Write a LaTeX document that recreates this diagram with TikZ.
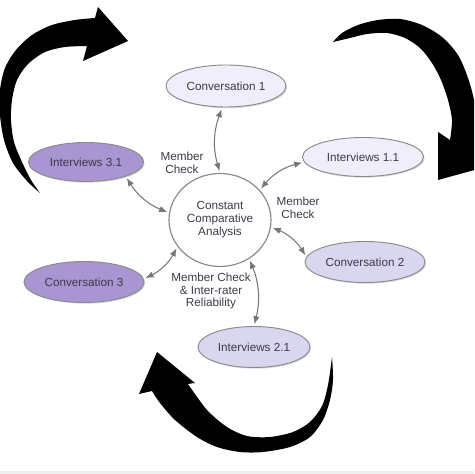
\documentclass[tikz,border=0pt]{standalone}
\usepackage{fontspec}
\setmainfont{Liberation Sans}
\usetikzlibrary{shapes.geometric,arrows.meta,shadows}
\definecolor{lightlav}{HTML}{F1EEFB}
\definecolor{midlav}{HTML}{D9D6F0}
\definecolor{darklav}{HTML}{A995D2}
\definecolor{rimgray}{HTML}{8A8A8A}
\definecolor{linkgray}{HTML}{777777}
\definecolor{txtgray}{HTML}{3B3A48}
\definecolor{stripgray}{HTML}{EEEEEE}

\begin{document}
\begin{tikzpicture}[x=0.03cm,y=0.03cm,
  phase/.style={ellipse,draw=rimgray,line width=0.8pt,inner sep=0pt,text=txtgray,minimum width=3.6cm,minimum height=1.23cm,drop shadow={shadow xshift=1pt,shadow yshift=-1pt,opacity=0.3}},
  hub/.style={ellipse,draw=rimgray,line width=1pt,fill=white,inner sep=0pt,text=txtgray,align=center,font=\fontsize{10}{11}\selectfont,minimum width=3.06cm,minimum height=2.79cm},
  note/.style={align=center,text=txtgray,font=\fontsize{10}{11}\selectfont},
  link/.style={<->,>={Latex[length=7pt,width=5.5pt]},draw=linkgray,line width=0.9pt,shorten <=1.5pt,shorten >=1.5pt,bend right=18}]

\useasboundingbox (0,0) rectangle (474,474);
\clip (0,0) rectangle (474,474);
\fill[stripgray] (0,0) rectangle (474,3);

% cycle arrows, drawn in image coordinates
\begin{scope}[shift={(0,474)},yscale=-1]
\fill[black] plot[smooth] coordinates {(40,193) (27,181) (13,163) (4,140) (0,115) (0,90) (5,68) (16,50) (32,35) (52,25) (75,20) (95,18)}
  -- (98,7) -- (128,41) -- (83,61)
  -- plot[smooth] coordinates {(87,46) (65,47) (45,52) (28,64) (17,80) (12,100) (11,120) (14,142) (22,162) (31,180) (40,193)} -- cycle;
\fill[black] plot[smooth] coordinates {(333,42) (342,33) (358,25) (378,20) (400,19) (422,25) (442,37) (458,55) (468,78) (474,100) (477,125) (478,158)}
  -- (489,166) -- (438,180) -- (438,132)
  -- plot[smooth] coordinates {(450,140) (452,120) (448,100) (441,80) (432,63) (420,48) (405,38) (387,33) (367,34) (350,38) (333,42)} -- cycle;
\fill[black] plot[smooth] coordinates {(332,357) (333,380) (330,400) (323,420) (310,437) (290,447) (263,452) (240,452) (217,447) (197,437) (175,420) (160,403) (152,391)}
  -- (139,394) -- (157,352) -- (195,383)
  -- plot[smooth] coordinates {(188,384) (207,410) (227,427) (247,436) (270,437) (293,432) (310,422) (322,406) (328,385) (332,357)} -- cycle;
\end{scope}

\node (ccA) at (220,254) [hub] {Constant\\Comparative\\Analysis};
\node (conv1) at (226,388) [phase,fill=lightlav,minimum height=1.26cm] {Conversation 1};
\node (int11) at (363,317) [phase,fill=lightlav,minimum width=3.63cm,minimum height=1.17cm] {Interviews 1.1};
\node (conv2) at (365,212) [phase,fill=midlav] {Conversation 2};
\node (int21) at (254,127) [phase,fill=midlav,minimum width=3.36cm] {Interviews 2.1};
\node (conv3) at (84,192) [phase,fill=darklav] {Conversation 3};
\node (int31) at (86,312) [phase,fill=darklav,minimum width=3.45cm,minimum height=1.17cm] {Interviews 3.1};

\node (lbl1) at (182,311) [note] {Member\\Check};
\node (lbl2) at (298,266) [note] {Member\\Check};
\node (lbl3) at (211,183) [note] {Member Check\\\& Inter-rater\\Reliability};

\draw [link] (conv1.260) to (ccA.north);
\draw [link] (int11.185) to (ccA.37);
\draw [link] (conv2.175) to (ccA.-8);
\draw [link] (int21.north) to (ccA.-53);
\draw [link] (conv3.3) to (ccA.212);
\draw [link] (int31.-20) to (ccA.172);
\end{tikzpicture}
\end{document}
